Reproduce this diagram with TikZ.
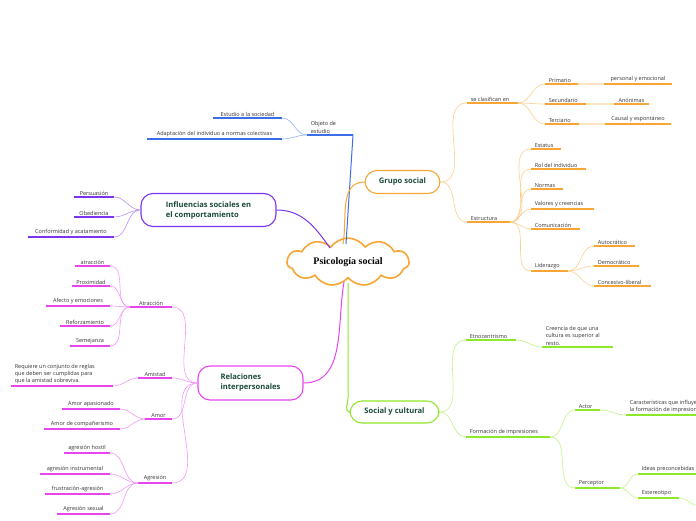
\documentclass[tikz,border=0pt]{standalone}
\usepackage{fontspec}
\setmainfont{Open Sans}
\newfontfamily\titlefont{Liberation Serif}
\usetikzlibrary{shapes.symbols}
\definecolor{cbl}{HTML}{3B6FE8}
\definecolor{cpu}{HTML}{7B35F0}
\definecolor{cpk}{HTML}{E844F0}
\definecolor{cor}{HTML}{F7A535}
\definecolor{cgr}{HTML}{8EE82A}
\definecolor{ctt}{HTML}{1B4A3C}
\definecolor{clt}{HTML}{333333}
\tikzset{
 lbl/.style={font=\fontsize{5.5}{7.2}\selectfont,text=clt,inner sep=1.6pt},
 topic/.style={draw,rounded corners=12pt,line width=1.1pt,fill=white,font=\fontsize{7.6}{10}\selectfont\bfseries,text=ctt,align=left},
}
\newcommand\lf[6]{%
 \coordinate (#1l) at (#2,#4); \coordinate (#1r) at (#3,#4);
 \draw[line width=1.6pt,#6] (#1l) -- (#1r);
 \node[lbl,anchor=south] (#1t) at ({(#2+#3)/2},#4) {#5};}
\newcommand\lfw[6]{%
 \coordinate (#1l) at (#2,#4); \coordinate (#1r) at (#3,#4);
 \draw[line width=1.6pt,#6] (#1l) -- (#1r);
 \node[lbl,anchor=south west,align=left] (#1t) at (#2+2,#4) {#5};}
\newcommand\cn[3]{\draw[#3!55,line width=0.6pt] (#1) to[out=0,in=180] (#2);}
\begin{document}
\begin{tikzpicture}[x=1pt,y=-1pt]
\useasboundingbox (0,0) rectangle (696,520);
\clip (0,0) rectangle (696,520);
% central
\node[cloud,cloud puffs=11,cloud puff arc=110,aspect=3.2,draw=cor,line width=1.6pt,fill=white,minimum width=122,minimum height=40,font=\titlefont\fontsize{10}{12}\selectfont\bfseries] (root) at (348,262) {Psicología social};
% blue
\coordinate (rb) at (346,244);
\lfw{obj}{307}{353}{135}{Objeto de\\estudio}{cbl}
\draw[cbl,line width=1pt] (rb) -- (353,135) -- (objl);
\lf{est}{213}{282}{118}{Estudio a la sociedad}{cbl}
\lf{ada}{147}{282}{139}{Adaptación del individuo a normas colectivas}{cbl}
\cn{estr}{objl}{cbl}\cn{adar}{objl}{cbl}
% purple
\node[topic,draw=cpu,minimum width=135,minimum height=33] (inf) at (208.5,210) {Influencias sociales en\\el comportamiento};
\draw[cpu,line width=1pt] (inf.east) to[out=0,in=125] (330,248);
\lf{per}{74}{114}{197}{Persuasión}{cpu}
\lf{obe}{74}{114}{217}{Obediencia}{cpu}
\lf{con}{28}{114}{237}{Conformidad y acatamiento}{cpu}
\cn{perr}{inf.west}{cpu}\cn{ober}{inf.west}{cpu}\cn{conr}{inf.west}{cpu}
% pink
\node[topic,draw=cpk,minimum width=105,minimum height=34] (rel) at (250.5,383) {Relaciones\\interpersonales};
\draw[cpk,line width=1pt] (rel.east) to[out=0,in=-100] (344,282);
\lf{atr}{130}{172}{307}{Atracción}{cpk}
\lf{ami}{138}{172}{378}{Amistad}{cpk}
\lf{amo}{145}{172}{419}{Amor}{cpk}
\lf{agr}{138}{172}{483}{Agresión}{cpk}
\cn{atrr}{rel.west}{cpk}\cn{amir}{rel.west}{cpk}\cn{amor}{rel.west}{cpk}\cn{agrr}{rel.west}{cpk}
\lf{a1}{75}{110}{266}{atracción}{cpk}
\lf{a2}{72}{110}{286}{Proximidad}{cpk}
\lf{a3}{46}{110}{306}{Afecto y emociones}{cpk}
\lf{a4}{60}{110}{326}{Reforzamiento}{cpk}
\lf{a5}{70}{110}{346}{Semejanza}{cpk}
\foreach \n in {a1,a2,a3,a4,a5}{\cn{\n r}{atrl}{cpk}}
\lfw{m1}{11}{113}{386}{Requiere un conjunto de reglas\\que deben ser cumplidas para\\que la amistad sobreviva.}{cpk}
\cn{m1r}{amil}{cpk}
\lf{o1}{62}{120}{409}{Amor apasionado}{cpk}
\lf{o2}{44}{120}{429}{Amor de compañerismo}{cpk}
\cn{o1r}{amol}{cpk}\cn{o2r}{amol}{cpk}
\lf{g1}{64}{110}{453}{agresión hostil}{cpk}
\lf{g2}{40}{110}{474}{agresión instrumental}{cpk}
\lf{g3}{45}{110}{494}{frustración-agresión}{cpk}
\lf{g4}{57}{110}{514}{Agresión sexual}{cpk}
\foreach \n in {g1,g2,g3,g4}{\cn{\n r}{agrl}{cpk}}
% orange
\node[topic,draw=cor,minimum width=75,minimum height=23] (gru) at (402.5,182) {Grupo social};
\draw[cor,line width=1pt] (343,244) to[out=80,in=180] (gru.west);
\lfw{cla}{467}{518}{103}{se clasifican en}{cor}
\lfw{estru}{467}{510}{222}{Estructura}{cor}
\cn{gru.east}{clal}{cor}\cn{gru.east}{estrul}{cor}
\lfw{p1}{545}{578}{84}{Primario}{cor}
\lfw{p2}{545}{586}{104}{Secundario}{cor}
\lfw{p3}{545}{579}{124}{Terciario}{cor}
\foreach \n in {p1,p2,p3}{\cn{clar}{\n l}{cor}}
\lf{q1}{604}{672}{84}{personal y emocional}{cor}
\lf{q2}{614}{649}{104}{Anónimas}{cor}
\lf{q3}{605}{671}{124}{Causal y espontáneo}{cor}
\draw[cor!30,line width=1.6pt] (p1r) -- (q1l) (p2r) -- (q2l) (p3r) -- (q3l);
\lfw{e1}{531}{561}{149}{Estatus}{cor}
\lfw{e2}{531}{586}{169}{Rol del individuo}{cor}
\lfw{e3}{531}{563}{189}{Normas}{cor}
\lfw{e4}{531}{594}{209}{Valores y creencias}{cor}
\lfw{e5}{531}{580}{229}{Comunicación}{cor}
\lfw{e6}{531}{568}{271}{Liderazgo}{cor}
\foreach \n in {e1,e2,e3,e4,e5,e6}{\cn{estrur}{\n l}{cor}}
\lfw{l1}{594}{635}{246}{Autocrático}{cor}
\lfw{l2}{594}{639}{266}{Democrático}{cor}
\lfw{l3}{594}{651}{286}{Concesivo-liberal}{cor}
\foreach \n in {l1,l2,l3}{\cn{e6r}{\n l}{cor}}
% green
\node[topic,draw=cgr,minimum width=89,minimum height=22] (soc) at (394.5,412) {Social y cultural};
\draw[cgr,line width=1pt] (348,283) -- (348,398) to[out=-90,in=180] (soc.west);
\lfw{etn}{466}{516}{340}{Etnocentrismo}{cgr}
\lfw{for}{466}{550}{437}{Formación de impresiones}{cgr}
\cn{soc.east}{etnl}{cgr}\cn{soc.east}{forl}{cgr}
\lfw{cre}{542}{613}{347}{Creencia de que una\\cultura es superior al\\resto.}{cgr}
\cn{etnr}{crel}{cgr}
\lfw{act}{575}{600}{410}{Actor}{cgr}
\lfw{pc}{575}{620}{488}{Perceptor}{cgr}
\cn{forr}{actl}{cgr}\cn{forr}{pcl}{cgr}
\lfw{car}{626}{700}{415}{Características que influyen en\\la formación de impresiones}{cgr}
\cn{actr}{carl}{cgr}
\lfw{ide}{638}{700}{474}{Ideas preconcebidas}{cgr}
\lfw{ste}{638}{679}{498}{Estereotipo}{cgr}
\cn{pcr}{idel}{cgr}\cn{pcr}{stel}{cgr}
\coordinate (sx) at (700,506);
\cn{ster}{sx}{cgr}
\end{tikzpicture}
\end{document}
